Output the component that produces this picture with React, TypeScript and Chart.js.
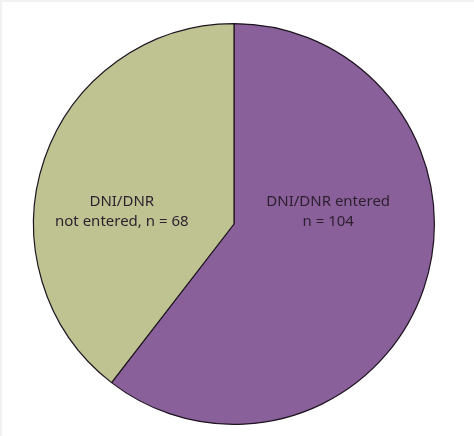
import { useEffect, useRef } from 'react';
import { Chart, ChartConfiguration, Plugin, registerables } from 'chart.js';

Chart.register(...registerables);

// Slices in drawing order, clockwise from 12 o'clock
const categories = ['DNI/DNR entered', 'DNI/DNR not entered'];
const counts = [104, 68];
const sliceColors = ['#8a609b', '#bec391'];
// Text written inside each slice, one entry per line
const sliceLabels = [
  ['DNI/DNR entered', 'n = 104'],
  ['DNI/DNR', 'not entered, n = 68'],
];

// where each label sits, as a fraction of the radius from the pie centre
const labelOffsets = [
  { x: 0.47, y: -0.06 },
  { x: -0.56, y: -0.06 },
];

const sliceTextPlugin: Plugin<'pie'> = {
  id: 'sliceText',
  afterDatasetsDraw(chart) {
    const meta = chart.getDatasetMeta(0);
    const ctx = chart.ctx;
    ctx.save();
    ctx.font = '15px "Noto Sans", sans-serif';
    ctx.fillStyle = '#2c1f2e';
    ctx.textAlign = 'center';
    ctx.textBaseline = 'middle';
    meta.data.forEach((arc: any, i) => {
      const { x, y, outerRadius } = arc.getProps(['x', 'y', 'outerRadius'], true);
      const cx = x + labelOffsets[i].x * outerRadius;
      const cy = y + labelOffsets[i].y * outerRadius;
      const lines = sliceLabels[i];
      const lh = 20;
      lines.forEach((line, j) => {
        ctx.fillText(line, cx, cy + (j - (lines.length - 1) / 2) * lh);
      });
    });
    ctx.restore();
  },
};

export default function App() {
  const canvasRef = useRef<HTMLCanvasElement>(null);
  const chartRef = useRef<Chart | null>(null);

  useEffect(() => {
    document.body.style.margin = '0';
    if (!canvasRef.current) return;

    const config: ChartConfiguration<'pie'> = {
      type: 'pie',
      data: {
        labels: categories,
        datasets: [
          {
            data: counts,
            backgroundColor: sliceColors,
            borderColor: '#1e1420',
            borderWidth: 1.2,
          },
        ],
      },
      options: {
        responsive: true,
        maintainAspectRatio: false,
        animation: false,
        layout: {
          padding: { left: 31, right: 39, top: 21, bottom: 11 },
        },
        plugins: {
          legend: { display: false },
          tooltip: { enabled: false },
        },
      },
      plugins: [sliceTextPlugin],
    };

    chartRef.current = new Chart(canvasRef.current, config);

    return () => {
      chartRef.current?.destroy();
    };
  }, []);

  return (
    <div
      style={{
        position: 'relative',
        width: '474px',
        height: '436px',
        background: '#fff',
        boxSizing: 'border-box',
        borderTop: '2px solid #f1f1f1',
        borderLeft: '2px solid #f1f1f1',
      }}
    >
      <canvas ref={canvasRef}></canvas>
    </div>
  );
}
